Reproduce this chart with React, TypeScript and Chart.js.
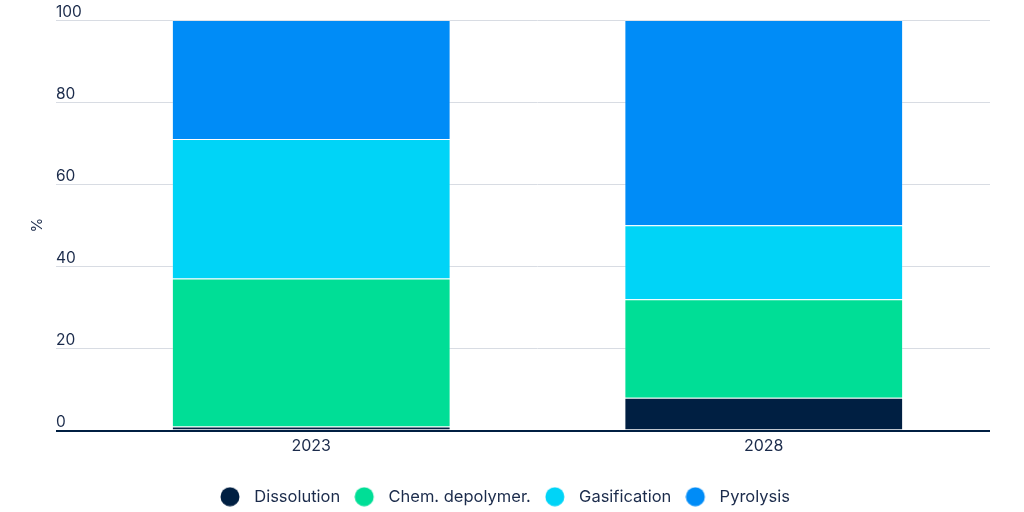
import { useEffect, useRef } from "react";
import { Chart, registerables } from "chart.js";

Chart.register(...registerables);

const years = ["2023", "2028"];
const seriesNames = ["Dissolution", "Chem. depolymer.", "Gasification", "Pyrolysis"];
const dissolution = [1, 8];
const chemDepolymer = [36, 24];
const gasification = [34, 18];
const pyrolysis = [29, 50];
const yTicks = [0, 20, 40, 60, 80, 100];

const NAVY = "#001f42";
const TEXT = "#1b2b4b";
const GRID = "#d8dce3";
const FONT = "Inter, 'Noto Sans', sans-serif";
const colors = ["#001f42", "#00de96", "#00d4f7", "#008cf7"];

// legend marker: circle at the left of a wider box, so the gap before the text matches
function marker(color: string) {
  const c = document.createElement("canvas");
  c.width = 26;
  c.height = 20;
  const g = c.getContext("2d");
  if (g) {
    g.fillStyle = color;
    g.beginPath();
    g.arc(10, 10, 9.5, 0, Math.PI * 2);
    g.fill();
  }
  return c;
}

export default function App() {
  const chartRef = useRef<HTMLCanvasElement>(null);
  const chartInstance = useRef<Chart | null>(null);

  useEffect(() => {
    document.body.style.margin = "0";
    if (!chartRef.current) return;
    if (chartInstance.current) chartInstance.current.destroy();
    const ctx = chartRef.current.getContext("2d");
    if (!ctx) return;

    const values = [dissolution, chemDepolymer, gasification, pyrolysis];

    chartInstance.current = new Chart(ctx, {
      type: "bar",
      data: {
        labels: years,
        datasets: seriesNames.map((name, i) => ({
          label: name,
          data: values[i],
          backgroundColor: colors[i],
          borderColor: "rgba(255,255,255,0.2)",
          borderWidth: 1,
          pointStyle: marker(colors[i]) as any,
          barPercentage: 0.616,
          categoryPercentage: 1,
        })),
      },
      options: {
        responsive: true,
        maintainAspectRatio: false,
        animation: false,
        layout: { padding: { top: 20, left: 20, right: 34, bottom: -3 } },
        scales: {
          x: {
            stacked: true,
            grid: { display: false },
            border: { display: false },
            afterFit: (axis: any) => {
              axis.height = 44;
            },
            ticks: {
              color: TEXT,
              padding: -2,
              font: { size: 16, family: FONT },
            },
          },
          y: {
            stacked: true,
            min: 0,
            max: 100,
            afterBuildTicks: (axis: any) => {
              axis.ticks = yTicks.map((v) => ({ value: v }));
            },
            border: { display: false },
            grid: {
              color: (c: any) => (c.tick && c.tick.value === 0 ? NAVY : GRID),
              lineWidth: (c: any) => (c.tick && c.tick.value === 0 ? 2 : 1),
              tickColor: (c: any) => (c.tick && c.tick.value === 0 ? NAVY : GRID),
              tickLength: 29,
            },
            ticks: {
              mirror: true,
              padding: -29,
              labelOffset: -8,
              color: TEXT,
              font: { size: 15.5, family: FONT },
            },
            title: {
              display: true,
              text: "%",
              color: TEXT,
              font: { size: 15, family: FONT },
              padding: { top: 8, bottom: 68 },
            },
          },
        },
        plugins: {
          legend: {
            position: "bottom",
            labels: {
              usePointStyle: true,
              pointStyleWidth: 26,
              boxHeight: 16,
              padding: 14,
              color: TEXT,
              font: { size: 16.5, family: FONT },
            },
          },
          tooltip: { enabled: false },
        },
      },
    });

    return () => {
      if (chartInstance.current) {
        chartInstance.current.destroy();
        chartInstance.current = null;
      }
    };
  }, []);

  return (
    <div style={{ position: "relative", width: 1024, height: 512 }}>
      <canvas ref={chartRef} />
    </div>
  );
}
